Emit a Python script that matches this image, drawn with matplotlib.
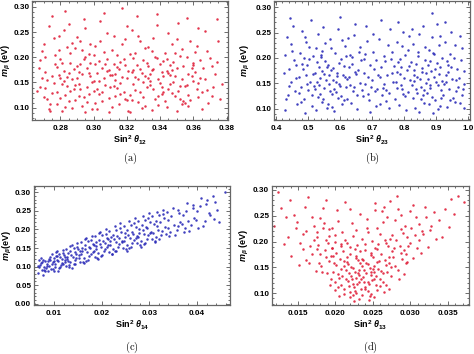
import matplotlib
matplotlib.use('Agg')
import matplotlib.pyplot as plt
import numpy as np
from matplotlib.ticker import MultipleLocator, AutoMinorLocator

plt.rcParams['font.family'] = ['Liberation Sans', 'DejaVu Sans']
plt.rcParams['mathtext.fontset'] = 'custom'
plt.rcParams['mathtext.rm'] = 'Liberation Sans:bold'
plt.rcParams['mathtext.bf'] = 'Liberation Sans:bold'
plt.rcParams['mathtext.it'] = 'Liberation Sans:bold:italic'

# DATA (sin^2 theta, m_beta in eV)
points_a = [
    (0.268,0.142),(0.271,0.201),(0.273,0.097),(0.267,0.178),(0.275,0.163),(0.270,0.121),(0.276,0.238),(0.272,0.155),
    (0.269,0.213),(0.274,0.108),(0.277,0.186),(0.266,0.134),(0.273,0.262),(0.271,0.171),(0.275,0.129),(0.268,0.195),
    (0.276,0.149),(0.270,0.227),(0.274,0.093),(0.272,0.118),(0.277,0.205),(0.269,0.158),(0.275,0.281),(0.271,0.139),
    (0.279,0.165),(0.283,0.102),(0.286,0.188),(0.281,0.147),(0.284,0.221),(0.278,0.131),(0.287,0.156),(0.280,0.197),
    (0.285,0.114),(0.282,0.172),(0.288,0.138),(0.279,0.243),(0.284,0.161),(0.281,0.094),(0.286,0.209),(0.283,0.126),
    (0.278,0.181),(0.287,0.099),(0.282,0.152),(0.285,0.266),(0.280,0.119),(0.288,0.176),(0.284,0.143),(0.279,0.214),
    (0.286,0.133),(0.281,0.189),(0.283,0.291),(0.287,0.228),(0.278,0.107),(0.285,0.168),(0.282,0.253),(0.280,0.158),
    (0.290,0.183),(0.294,0.121),(0.297,0.207),(0.291,0.148),(0.295,0.092),(0.289,0.219),(0.298,0.163),(0.292,0.137),
    (0.296,0.178),(0.293,0.104),(0.299,0.151),(0.290,0.241),(0.294,0.196),(0.297,0.128),(0.291,0.171),(0.295,0.258),
    (0.289,0.115),(0.298,0.226),(0.292,0.187),(0.296,0.142),(0.293,0.214),(0.299,0.097),(0.290,0.159),(0.294,0.276),
    (0.297,0.169),(0.291,0.124),(0.295,0.201),(0.289,0.145),(0.298,0.189),(0.292,0.233),(0.296,0.111),(0.293,0.166),
    (0.301,0.186),(0.305,0.131),(0.308,0.172),(0.302,0.098),(0.306,0.211),(0.300,0.153),(0.309,0.119),(0.303,0.193),
    (0.307,0.146),(0.304,0.232),(0.310,0.165),(0.301,0.109),(0.305,0.179),(0.308,0.248),(0.302,0.137),(0.306,0.158),
    (0.300,0.204),(0.309,0.092),(0.303,0.127),(0.307,0.186),(0.304,0.271),(0.310,0.141),(0.301,0.222),(0.305,0.114),
    (0.308,0.197),(0.302,0.169),(0.306,0.288),(0.300,0.133),(0.309,0.175),(0.303,0.152),
    (0.312,0.143),(0.316,0.191),(0.319,0.118),(0.313,0.167),(0.317,0.226),(0.311,0.101),(0.320,0.158),(0.314,0.205),
    (0.318,0.132),(0.315,0.176),(0.321,0.094),(0.312,0.243),(0.316,0.149),(0.319,0.184),(0.313,0.123),(0.317,0.161),
    (0.311,0.214),(0.320,0.262),(0.314,0.139),(0.318,0.197),(0.315,0.108),(0.321,0.172),(0.312,0.187),(0.316,0.128),
    (0.319,0.236),(0.313,0.154),(0.317,0.297),(0.311,0.165),(0.320,0.116),(0.314,0.181),
    (0.323,0.171),(0.327,0.112),(0.330,0.194),(0.324,0.147),(0.328,0.232),(0.322,0.126),(0.331,0.163),(0.325,0.208),
    (0.329,0.099),(0.326,0.185),(0.332,0.141),(0.323,0.254),(0.327,0.157),(0.330,0.121),(0.324,0.199),(0.328,0.176),
    (0.322,0.092),(0.331,0.218),(0.325,0.135),(0.329,0.168),(0.326,0.281),(0.332,0.189),(0.323,0.115),(0.327,0.243),
    (0.330,0.151),(0.324,0.174),(0.328,0.132),(0.322,0.206),(0.331,0.104),(0.325,0.161),
    (0.334,0.152),(0.338,0.198),(0.341,0.127),(0.335,0.174),(0.339,0.106),(0.333,0.221),(0.342,0.163),(0.336,0.138),
    (0.340,0.187),(0.337,0.117),(0.343,0.209),(0.334,0.145),(0.338,0.264),(0.341,0.171),(0.335,0.096),(0.339,0.156),
    (0.333,0.183),(0.342,0.131),(0.336,0.238),(0.340,0.149),(0.337,0.201),(0.343,0.113),(0.334,0.166),(0.338,0.286),
    (0.341,0.142),(0.335,0.213),(0.339,0.124),(0.333,0.158),(0.342,0.192),(0.336,0.177),
    (0.345,0.168),(0.349,0.124),(0.352,0.203),(0.346,0.147),(0.350,0.179),(0.344,0.101),(0.353,0.156),(0.347,0.226),
    (0.351,0.134),(0.348,0.191),(0.354,0.114),(0.345,0.249),(0.349,0.162),(0.352,0.143),(0.346,0.185),(0.350,0.093),
    (0.344,0.172),(0.353,0.217),(0.347,0.129),(0.351,0.268),(0.348,0.151),(0.354,0.182),(0.345,0.138),(0.349,0.209),
    (0.352,0.118),(0.346,0.165),(0.350,0.236),(0.344,0.197),(0.353,0.107),(0.347,0.175),
    (0.356,0.146),(0.360,0.188),(0.363,0.121),(0.357,0.167),(0.361,0.211),(0.355,0.109),(0.364,0.159),(0.358,0.233),
    (0.362,0.138),(0.359,0.179),(0.365,0.097),(0.356,0.201),(0.360,0.152),(0.363,0.257),(0.357,0.126),(0.361,0.171),
    (0.355,0.143),(0.364,0.194),(0.358,0.115),(0.362,0.223),(0.359,0.162),(0.365,0.132),(0.356,0.277),(0.360,0.184),
    (0.363,0.149),(0.357,0.104),
    (0.367,0.157),(0.371,0.124),(0.374,0.191),(0.368,0.213),(0.372,0.141),(0.366,0.178),(0.375,0.232),(0.369,0.109),
    (0.373,0.166),(0.370,0.199),(0.377,0.148),(0.367,0.252),(0.371,0.183),(0.376,0.118),(0.368,0.135),(0.374,0.275),
]

points_b = [
    (0.424,0.171),(0.437,0.126),(0.451,0.213),(0.429,0.098),(0.446,0.152),(0.462,0.187),(0.433,0.241),(0.458,0.134),
    (0.441,0.179),(0.467,0.109),(0.427,0.205),(0.454,0.263),(0.439,0.145),(0.463,0.161),(0.431,0.119),(0.448,0.228),
    (0.456,0.196),(0.444,0.279),
    (0.473,0.162),(0.488,0.118),(0.502,0.197),(0.479,0.143),(0.494,0.231),(0.511,0.105),(0.484,0.178),(0.499,0.136),
    (0.516,0.169),(0.476,0.209),(0.491,0.091),(0.507,0.152),(0.482,0.254),(0.497,0.186),(0.513,0.127),(0.471,0.131),
    (0.486,0.199),(0.504,0.221),(0.519,0.145),(0.478,0.113),(0.493,0.167),(0.509,0.274),(0.481,0.189),(0.496,0.149),
    (0.514,0.204),(0.489,0.241),
    (0.523,0.171),(0.538,0.129),(0.552,0.193),(0.529,0.153),(0.544,0.214),(0.561,0.109),(0.534,0.182),(0.549,0.141),
    (0.566,0.166),(0.526,0.097),(0.541,0.201),(0.557,0.156),(0.532,0.247),(0.547,0.118),(0.563,0.187),(0.521,0.138),
    (0.536,0.161),(0.554,0.229),(0.569,0.134),(0.528,0.192),(0.543,0.175),(0.559,0.102),(0.531,0.123),(0.546,0.262),
    (0.564,0.149),(0.539,0.206),(0.551,0.168),(0.524,0.219),(0.558,0.183),(0.535,0.147),(0.567,0.238),(0.542,0.113),
    (0.573,0.177),(0.588,0.133),(0.602,0.198),(0.579,0.156),(0.594,0.121),(0.611,0.185),(0.584,0.209),(0.599,0.144),
    (0.616,0.162),(0.576,0.104),(0.591,0.171),(0.607,0.236),(0.582,0.138),(0.597,0.191),(0.613,0.117),(0.571,0.219),
    (0.586,0.152),(0.604,0.125),(0.619,0.203),(0.578,0.181),(0.593,0.257),(0.609,0.167),(0.581,0.095),(0.596,0.148),
    (0.614,0.224),(0.589,0.164),(0.601,0.281),(0.574,0.129),(0.606,0.109),(0.618,0.142),
    (0.623,0.158),(0.638,0.201),(0.652,0.127),(0.629,0.182),(0.644,0.143),(0.661,0.221),(0.634,0.112),(0.649,0.169),
    (0.666,0.196),(0.626,0.239),(0.641,0.134),(0.657,0.176),(0.632,0.205),(0.647,0.268),(0.663,0.151),(0.621,0.119),
    (0.636,0.188),(0.654,0.099),(0.669,0.137),(0.628,0.163),(0.643,0.245),(0.659,0.211),(0.631,0.147),(0.646,0.173),
    (0.673,0.171),(0.688,0.129),(0.702,0.212),(0.679,0.148),(0.694,0.187),(0.711,0.106),(0.684,0.234),(0.699,0.156),
    (0.716,0.139),(0.676,0.198),(0.691,0.117),(0.707,0.178),(0.682,0.263),(0.697,0.143),(0.713,0.195),(0.671,0.124),
    (0.686,0.162),(0.704,0.247),(0.719,0.166),(0.678,0.208),(0.693,0.094),(0.709,0.134),
    (0.723,0.163),(0.738,0.204),(0.752,0.131),(0.729,0.182),(0.744,0.115),(0.761,0.171),(0.734,0.141),(0.749,0.226),
    (0.766,0.152),(0.726,0.109),(0.741,0.193),(0.757,0.257),(0.732,0.127),(0.747,0.167),(0.763,0.211),(0.721,0.238),
    (0.736,0.149),(0.754,0.101),(0.769,0.184),(0.728,0.275),(0.743,0.136),(0.759,0.198),
    (0.773,0.152),(0.788,0.197),(0.802,0.124),(0.779,0.173),(0.794,0.139),(0.811,0.216),(0.784,0.108),(0.799,0.161),
    (0.816,0.185),(0.776,0.231),(0.791,0.147),(0.807,0.098),(0.782,0.192),(0.797,0.252),(0.813,0.133),(0.771,0.118),
    (0.786,0.168),(0.804,0.206),(0.819,0.156),(0.778,0.141),(0.793,0.224),(0.809,0.177),(0.781,0.271),(0.796,0.129),
    (0.814,0.243),(0.789,0.183),
    (0.823,0.146),(0.838,0.188),(0.852,0.119),(0.829,0.167),(0.844,0.211),(0.861,0.137),(0.834,0.102),(0.849,0.159),
    (0.866,0.196),(0.826,0.228),(0.841,0.131),(0.857,0.173),(0.832,0.154),(0.847,0.247),(0.863,0.112),(0.821,0.192),
    (0.836,0.139),(0.854,0.181),(0.869,0.151),(0.828,0.121),(0.843,0.203),(0.859,0.264),(0.831,0.176),(0.846,0.093),
    (0.864,0.222),(0.839,0.162),(0.851,0.143),(0.824,0.257),(0.858,0.127),(0.868,0.171),
    (0.873,0.158),(0.888,0.123),(0.902,0.191),(0.879,0.141),(0.894,0.207),(0.911,0.106),(0.884,0.174),(0.899,0.152),
    (0.916,0.136),(0.876,0.216),(0.891,0.091),(0.907,0.168),(0.882,0.193),(0.897,0.117),(0.913,0.183),(0.871,0.131),
    (0.886,0.241),(0.904,0.147),(0.919,0.199),(0.878,0.109),(0.893,0.163),(0.909,0.226),(0.881,0.146),(0.896,0.178),
    (0.914,0.121),(0.889,0.209),(0.901,0.268),(0.874,0.186),(0.906,0.099),(0.918,0.155),(0.887,0.289),(0.912,0.243),
    (0.923,0.148),(0.938,0.186),(0.952,0.121),(0.929,0.167),(0.944,0.207),(0.961,0.134),(0.934,0.104),(0.949,0.159),
    (0.966,0.178),(0.926,0.231),(0.941,0.139),(0.957,0.113),(0.932,0.194),(0.947,0.252),(0.963,0.156),(0.921,0.126),
    (0.936,0.173),(0.954,0.199),(0.969,0.142),(0.928,0.271),(0.943,0.117),(0.959,0.225),(0.931,0.153),(0.946,0.182),
    (0.972,0.161),(0.981,0.127),(0.976,0.196),(0.985,0.148),(0.973,0.112),(0.988,0.174),(0.979,0.219),(0.983,0.139),
    (0.975,0.243),(0.986,0.101),
]

points_c = [
    (0.0068,0.098),(0.0074,0.112),(0.0081,0.087),(0.0089,0.121),(0.0071,0.105),(0.0093,0.094),(0.0077,0.118),
    (0.0085,0.101),(0.0066,0.083),(0.0091,0.127),(0.0079,0.092),(0.0073,0.109),(0.0087,0.114),(0.0069,0.119),
    (0.0083,0.096),(0.0095,0.108),(0.0076,0.078),(0.0088,0.089),(0.0072,0.124),(0.0081,0.116),(0.0067,0.102),
    (0.0092,0.117),(0.0078,0.099),(0.0086,0.107),(0.0074,0.091),(0.0090,0.101),
    (0.0097,0.112),(0.0104,0.128),(0.0111,0.096),(0.0118,0.137),(0.0101,0.089),(0.0123,0.119),(0.0107,0.142),
    (0.0114,0.104),(0.0099,0.123),(0.0121,0.131),(0.0109,0.115),(0.0103,0.098),(0.0117,0.109),(0.0096,0.134),
    (0.0113,0.126),(0.0125,0.101),(0.0106,0.118),(0.0119,0.144),(0.0102,0.107),(0.0111,0.133),(0.0098,0.093),
    (0.0122,0.113),(0.0108,0.087),(0.0116,0.121),(0.0104,0.139),(0.0124,0.127),(0.0100,0.116),(0.0113,0.098),
    (0.0119,0.106),(0.0107,0.129),
    (0.0127,0.121),(0.0134,0.142),(0.0141,0.108),(0.0148,0.153),(0.0131,0.099),(0.0153,0.131),(0.0137,0.159),
    (0.0144,0.117),(0.0129,0.137),(0.0151,0.146),(0.0139,0.126),(0.0133,0.111),(0.0147,0.122),(0.0126,0.148),
    (0.0143,0.139),(0.0155,0.112),(0.0136,0.132),(0.0149,0.163),(0.0132,0.103),(0.0141,0.149),(0.0128,0.127),
    (0.0152,0.124),(0.0138,0.097),(0.0146,0.135),(0.0134,0.155),(0.0154,0.141),(0.0130,0.115),(0.0145,0.106),
    (0.0157,0.133),(0.0164,0.158),(0.0171,0.119),(0.0178,0.171),(0.0161,0.112),(0.0183,0.143),(0.0167,0.177),
    (0.0174,0.129),(0.0159,0.151),(0.0181,0.162),(0.0169,0.139),(0.0163,0.122),(0.0177,0.134),(0.0156,0.165),
    (0.0173,0.153),(0.0185,0.125),(0.0166,0.146),(0.0179,0.183),(0.0162,0.109),(0.0171,0.168),(0.0158,0.141),
    (0.0182,0.138),(0.0168,0.116),(0.0176,0.149),(0.0164,0.174),(0.0184,0.157),
    (0.0187,0.146),(0.0194,0.172),(0.0201,0.131),(0.0208,0.188),(0.0191,0.124),(0.0213,0.157),(0.0197,0.193),
    (0.0204,0.141),(0.0189,0.166),(0.0211,0.178),(0.0199,0.153),(0.0193,0.136),(0.0207,0.148),(0.0186,0.181),
    (0.0203,0.168),(0.0215,0.139),(0.0196,0.161),(0.0209,0.201),(0.0192,0.121),(0.0201,0.184),(0.0188,0.156),
    (0.0212,0.152),(0.0198,0.129),(0.0206,0.163),(0.0194,0.191),(0.0214,0.173),
    (0.0217,0.158),(0.0224,0.186),(0.0231,0.142),(0.0238,0.203),(0.0221,0.135),(0.0243,0.169),(0.0227,0.208),
    (0.0234,0.153),(0.0219,0.179),(0.0241,0.193),(0.0229,0.165),(0.0223,0.148),(0.0237,0.161),(0.0216,0.196),
    (0.0233,0.182),(0.0245,0.151),(0.0226,0.174),(0.0239,0.216),(0.0222,0.133),(0.0231,0.199),(0.0218,0.168),
    (0.0242,0.166),(0.0228,0.141),(0.0236,0.177),
    (0.0247,0.169),(0.0254,0.198),(0.0261,0.152),(0.0268,0.217),(0.0251,0.146),(0.0273,0.181),(0.0257,0.223),
    (0.0264,0.164),(0.0249,0.191),(0.0271,0.206),(0.0259,0.176),(0.0253,0.158),(0.0267,0.172),(0.0246,0.209),
    (0.0263,0.194),(0.0275,0.163),(0.0256,0.186),(0.0269,0.231),(0.0252,0.142),(0.0261,0.212),(0.0248,0.179),
    (0.0272,0.178),(0.0258,0.151),(0.0266,0.189),
    (0.0277,0.179),(0.0284,0.211),(0.0291,0.163),(0.0298,0.231),(0.0281,0.157),(0.0303,0.193),(0.0287,0.236),
    (0.0294,0.175),(0.0279,0.202),(0.0301,0.219),(0.0289,0.187),(0.0283,0.169),(0.0297,0.184),(0.0276,0.223),
    (0.0293,0.206),(0.0305,0.174),(0.0286,0.198),(0.0299,0.244),(0.0282,0.154),(0.0291,0.226),(0.0278,0.191),
    (0.0302,0.191),(0.0288,0.161),(0.0296,0.203),
    (0.0307,0.191),(0.0314,0.224),(0.0321,0.174),(0.0328,0.241),(0.0311,0.168),(0.0333,0.206),(0.0317,0.248),
    (0.0324,0.186),(0.0309,0.214),(0.0331,0.232),(0.0319,0.199),(0.0313,0.179),(0.0327,0.196),(0.0306,0.236),
    (0.0323,0.219),(0.0335,0.188),(0.0316,0.209),(0.0329,0.253),(0.0312,0.165),(0.0321,0.239),
    (0.0338,0.204),(0.0346,0.237),(0.0353,0.186),(0.0361,0.252),(0.0342,0.181),(0.0364,0.219),(0.0349,0.259),
    (0.0357,0.198),(0.0340,0.226),(0.0362,0.244),(0.0351,0.211),(0.0344,0.193),(0.0359,0.208),(0.0336,0.248),
    (0.0368,0.214),(0.0376,0.249),(0.0383,0.197),(0.0391,0.266),(0.0372,0.193),(0.0394,0.231),(0.0379,0.271),
    (0.0387,0.211),(0.0370,0.238),(0.0392,0.257),(0.0381,0.224),(0.0374,0.205),
    (0.0398,0.226),(0.0406,0.263),(0.0413,0.209),(0.0421,0.279),(0.0402,0.204),(0.0424,0.244),(0.0409,0.284),
    (0.0417,0.223),(0.0400,0.251),(0.0419,0.268),
    (0.0428,0.238),(0.0437,0.274),(0.0446,0.221),(0.0433,0.291),(0.0441,0.252),(0.0459,0.302),(0.0436,0.229),
]

points_d = [
    (0.0118,0.231),(0.0123,0.297),(0.0127,0.265),(0.0131,0.196),(0.0134,0.248),
    (0.0137,0.209),(0.0141,0.173),(0.0144,0.252),(0.0147,0.227),(0.0151,0.155),(0.0139,0.281),(0.0153,0.198),
    (0.0149,0.238),
    (0.0157,0.186),(0.0161,0.221),(0.0164,0.158),(0.0168,0.247),(0.0171,0.203),(0.0174,0.143),(0.0159,0.268),
    (0.0166,0.192),(0.0172,0.231),(0.0156,0.214),(0.0169,0.176),(0.0163,0.286),(0.0175,0.209),(0.0160,0.165),
    (0.0177,0.194),(0.0181,0.152),(0.0184,0.227),(0.0188,0.171),(0.0191,0.211),(0.0194,0.128),(0.0179,0.246),
    (0.0186,0.183),(0.0192,0.163),(0.0176,0.219),(0.0189,0.139),(0.0183,0.266),(0.0195,0.188),(0.0180,0.176),
    (0.0187,0.204),(0.0193,0.117),(0.0178,0.158),(0.0185,0.236),(0.0190,0.197),(0.0182,0.142),(0.0194,0.172),
    (0.0188,0.281),(0.0176,0.186),(0.0191,0.224),
    (0.0197,0.141),(0.0201,0.178),(0.0204,0.112),(0.0208,0.196),(0.0211,0.153),(0.0214,0.127),(0.0199,0.213),
    (0.0206,0.166),(0.0212,0.098),(0.0196,0.187),(0.0209,0.134),(0.0203,0.239),(0.0215,0.171),(0.0200,0.121),
    (0.0207,0.148),(0.0213,0.203),(0.0198,0.159),(0.0205,0.094),(0.0210,0.182),(0.0202,0.261),(0.0214,0.146),
    (0.0208,0.117),(0.0196,0.226),(0.0211,0.162),(0.0203,0.137),(0.0199,0.106),(0.0207,0.191),(0.0213,0.276),
    (0.0201,0.154),(0.0209,0.219),(0.0197,0.173),(0.0205,0.129),(0.0212,0.109),(0.0200,0.199),
    (0.0217,0.124),(0.0221,0.151),(0.0224,0.097),(0.0228,0.173),(0.0231,0.136),(0.0234,0.108),(0.0219,0.189),
    (0.0226,0.142),(0.0232,0.089),(0.0216,0.161),(0.0229,0.118),(0.0223,0.211),(0.0235,0.153),(0.0220,0.103),
    (0.0227,0.129),(0.0233,0.181),(0.0218,0.139),(0.0225,0.086),(0.0230,0.164),(0.0222,0.236),(0.0234,0.127),
    (0.0228,0.101),(0.0216,0.198),(0.0231,0.146),(0.0223,0.119),(0.0219,0.093),(0.0227,0.168),(0.0233,0.254),
    (0.0221,0.134),(0.0229,0.193),(0.0217,0.157),(0.0225,0.112),(0.0232,0.121),(0.0220,0.176),(0.0226,0.105),
    (0.0230,0.139),(0.0218,0.115),(0.0224,0.149),(0.0235,0.096),(0.0222,0.127),(0.0228,0.222),(0.0233,0.158),
    (0.0219,0.264),(0.0226,0.185),
    (0.0237,0.131),(0.0241,0.158),(0.0244,0.104),(0.0248,0.179),(0.0251,0.142),(0.0254,0.116),(0.0239,0.196),
    (0.0246,0.149),(0.0252,0.092),(0.0236,0.167),(0.0249,0.125),(0.0243,0.218),(0.0255,0.161),(0.0240,0.109),
    (0.0247,0.136),(0.0253,0.188),(0.0238,0.145),(0.0245,0.088),(0.0250,0.171),(0.0242,0.243),(0.0254,0.134),
    (0.0248,0.099),(0.0236,0.206),(0.0251,0.153),(0.0243,0.121),(0.0239,0.113),(0.0247,0.175),(0.0253,0.262),
    (0.0241,0.139),(0.0249,0.201),(0.0237,0.164),(0.0245,0.118),(0.0252,0.128),(0.0240,0.184),(0.0246,0.095),
    (0.0250,0.147),(0.0238,0.122),(0.0244,0.156),(0.0255,0.107),(0.0242,0.227),(0.0248,0.142),(0.0253,0.274),
    (0.0257,0.148),(0.0261,0.176),(0.0264,0.121),(0.0268,0.197),(0.0271,0.159),(0.0274,0.133),(0.0259,0.215),
    (0.0266,0.165),(0.0272,0.108),(0.0256,0.186),(0.0269,0.142),(0.0263,0.238),(0.0275,0.181),(0.0260,0.127),
    (0.0267,0.154),(0.0273,0.206),(0.0258,0.162),(0.0265,0.102),(0.0270,0.191),(0.0262,0.259),(0.0274,0.151),
    (0.0268,0.117),(0.0256,0.227),(0.0271,0.171),(0.0263,0.139),(0.0259,0.114),(0.0266,0.203),(0.0273,0.279),
    (0.0261,0.144),(0.0269,0.248),(0.0257,0.196),(0.0265,0.268),
    (0.0277,0.171),(0.0281,0.203),(0.0284,0.146),(0.0288,0.224),(0.0291,0.184),(0.0294,0.158),(0.0279,0.241),
    (0.0286,0.192),(0.0292,0.137),(0.0276,0.213),(0.0289,0.167),(0.0283,0.263),(0.0295,0.209),(0.0280,0.152),
    (0.0287,0.179),(0.0293,0.231),(0.0278,0.188),(0.0285,0.128),(0.0290,0.216),(0.0282,0.288),(0.0294,0.176),
    (0.0288,0.252),
    (0.0297,0.191),(0.0301,0.226),(0.0304,0.168),(0.0308,0.247),(0.0311,0.204),(0.0314,0.179),(0.0299,0.259),
    (0.0306,0.213),(0.0312,0.234),(0.0296,0.161),(0.0309,0.187),(0.0303,0.271),(0.0315,0.221),(0.0300,0.198),
    (0.0317,0.214),(0.0321,0.247),(0.0324,0.189),(0.0328,0.231),(0.0331,0.258),(0.0334,0.206),(0.0319,0.268),
    (0.0326,0.222),
    (0.0338,0.241),(0.0342,0.209),(0.0346,0.264),(0.0351,0.228),(0.0354,0.283),
    (0.0358,0.253),(0.0364,0.289),(0.0371,0.276),
]

red = '#e0203a'
blue = '#2b2bb8'

# SET-UP: one entry per panel
panels = [
    # points, colour, xlabel subscript, caption, axes rect, xlim, ylim, xmajor, ylabel, ylabel x (axes frac)
    (points_a, red, '12', '(a)', [0.0682, 0.661, 0.4128, 0.337], (0.2632, 0.3808), (0.0757, 0.312), 0.02, r'$m_\beta$ (eV)', -0.10),
    (points_b, blue, '23', '(b)', [0.5787, 0.661, 0.4135, 0.337], (0.3947, 1.0062), (0.0775, 0.313), 0.1, r'$m_\beta$ (eV)', -0.115),
    (points_c, blue, '14', '(c)', [0.0717, 0.1384, 0.4135, 0.3362], (0.0058, 0.0469), (-0.0035, 0.317), 0.01, r'$m_\beta$(eV)', -0.104),
    (points_d, red, '13', '(d)', [0.5738, 0.1384, 0.4156, 0.3362], (0.01153, 0.0378), (0.0774, 0.3077), 0.005, r'$m_\beta$ (eV)', -0.107),
]
xfmt = {'12': '%.2f', '23': '%.1f', '14': '%.2f', '13': '%.3f'}

fig = plt.figure(figsize=(4.74, 3.54), dpi=100)

for pts, col, sub, cap, rect, xl, yl, xmaj, ylab, ylx in panels:
    ax = fig.add_axes(rect)
    arr = np.array(pts)
    ax.scatter(arr[:, 0], arr[:, 1], s=3.2, c=col, linewidths=0, alpha=0.9)
    ax.set_xlim(xl)
    ax.set_ylim(yl)
    ax.xaxis.set_major_locator(MultipleLocator(xmaj))
    ax.yaxis.set_major_locator(MultipleLocator(0.05))
    ax.xaxis.set_minor_locator(AutoMinorLocator(4 if sub == '12' else 5))
    ax.yaxis.set_minor_locator(AutoMinorLocator(5))
    ax.xaxis.set_major_formatter(plt.FormatStrFormatter(xfmt[sub]))
    ax.yaxis.set_major_formatter(plt.FormatStrFormatter('%.2f'))
    ax.tick_params(which='both', direction='in', top=True, right=True, colors='#555555',
                   labelcolor='black', labelsize=5.9, width=0.6)
    ax.tick_params(which='major', length=3)
    ax.tick_params(which='minor', length=1.6)
    ax.tick_params(axis='x', which='major', pad=3.5)
    ax.tick_params(axis='y', which='major', pad=2)
    for lab in ax.get_xticklabels() + ax.get_yticklabels():
        lab.set_fontweight('bold')
    for sp in ax.spines.values():
        sp.set_color('#666666')
        sp.set_linewidth(0.9)
    ax.set_xlabel(r'Sin$^2$ $\theta_{' + sub + '}$', fontsize=6.5, fontweight='bold', labelpad=1.5)
    ax.set_ylabel(ylab, fontsize=6.5, fontweight='bold')
    ax.yaxis.set_label_coords(ylx, 0.5)
    cx = rect[0] + rect[2] * 0.5
    cy = 0.554 if cap in ('(a)', '(b)') else 0.02
    fig.text(cx, cy, r'$\mathrm{' + cap + '}$', ha='center', va='center', fontsize=7.5, math_fontfamily='cm')

fig.savefig('out.png', dpi=100)
